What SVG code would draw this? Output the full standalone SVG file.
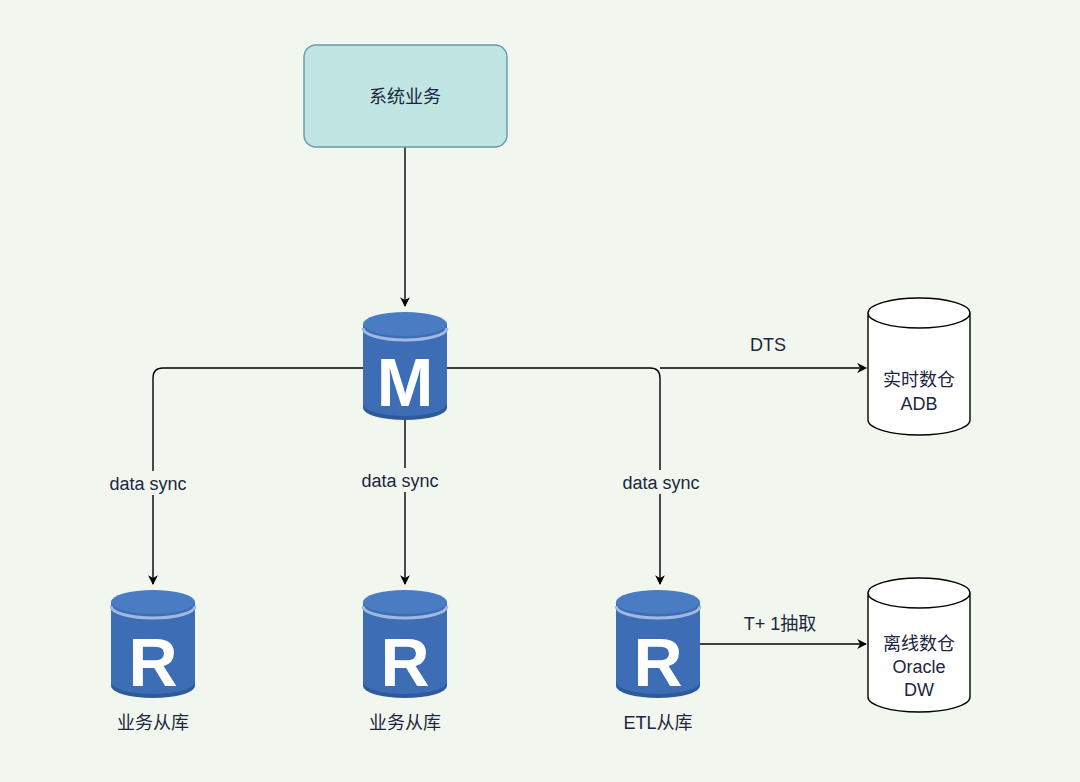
<svg xmlns="http://www.w3.org/2000/svg" width="1080" height="782" viewBox="0 0 1080 782">
<defs>
<style>
text{font-family:"Liberation Sans","Noto Sans CJK SC",sans-serif;fill:#1c2640;text-anchor:middle}
.t{font-size:18px}
.ln{fill:none;stroke:#000;stroke-width:1.4}
.lbl{fill:#f1f7ee}
.db{fill:#3d6db5}
.dbt{fill:#4a7cc4}
.dbb{fill:#2f5a9a}
.cyl{fill:#fff;stroke:#000;stroke-width:1.4}
.big{font-size:68px;font-weight:bold;fill:#fff}
</style>
<marker id="a" viewBox="0 0 10 10" refX="9" refY="5" markerWidth="7" markerHeight="7" orient="auto"><path d="M0,0 L10,5 L0,10 L3,5z" fill="#000"/></marker>
<g id="dbicon">
<path class="dbb" d="M0,12 V96 A42,12 0 0 0 84,96 V12z"/>
<path class="db" d="M0,12 V92 A42,12 0 0 0 84,92 V12z"/>
<path d="M0,16 A42,12 0 0 0 84,16" fill="none" stroke="#9fb9df" stroke-width="3"/>
<ellipse class="dbt" cx="42" cy="12" rx="42" ry="12"/>
</g>
</defs>
<rect width="1080" height="782" fill="#f1f7ee"/>
<g id="connectors">
<path class="ln" d="M405,147 V306" marker-end="url(#a)"/>
<path class="ln" d="M363,368 H163 Q153,368 153,378 V584" marker-end="url(#a)"/>
<path class="ln" d="M405,420 V584" marker-end="url(#a)"/>
<path class="ln" d="M447,368 H650 Q660,368 660,378 V584" marker-end="url(#a)"/>
<path class="ln" d="M660,368 H866" marker-end="url(#a)"/>
<path class="ln" d="M700,644 H866" marker-end="url(#a)"/>
<rect class="lbl" x="101" y="471" width="94" height="24"/><text class="t" x="148" y="490">data sync</text>
<rect class="lbl" x="353" y="468" width="94" height="24"/><text class="t" x="400" y="487">data sync</text>
<rect class="lbl" x="614" y="470" width="94" height="24"/><text class="t" x="661" y="489">data sync</text>
<text class="t" x="768" y="351">DTS</text>
<text class="t" x="780" y="630">T+ 1抽取</text>
</g>
<g id="sys"><rect x="304" y="45" width="203" height="102" rx="12" fill="#c1e5e2" stroke="#6b9aa6" stroke-width="1.4"/><text class="t" x="405" y="103">系统业务</text></g>
<g id="m"><use href="#dbicon" x="363" y="312"/><text class="big" x="405" y="406">M</text></g>
<g id="r1"><use href="#dbicon" x="111" y="590"/><text class="big" x="153" y="686">R</text><text class="t" x="153" y="729">业务从库</text></g>
<g id="r2"><use href="#dbicon" x="363" y="590"/><text class="big" x="405" y="686">R</text><text class="t" x="405" y="729">业务从库</text></g>
<g id="r3"><use href="#dbicon" x="616" y="590"/><text class="big" x="658" y="686">R</text><text class="t" x="658" y="729">ETL从库</text></g>
<g id="adb"><path class="cyl" d="M868,313 V420 A51,15 0 0 0 970,420 V313 A51,15 0 0 0 868,313 A51,15 0 0 0 970,313"/><text class="t" x="919" y="386">实时数仓</text><text class="t" x="919" y="410">ADB</text></g>
<g id="odw"><path class="cyl" d="M868,593 V697 A51,15 0 0 0 970,697 V593 A51,15 0 0 0 868,593 A51,15 0 0 0 970,593"/><text class="t" x="919" y="650">离线数仓</text><text class="t" x="919" y="673">Oracle</text><text class="t" x="919" y="696">DW</text></g>
</svg>
